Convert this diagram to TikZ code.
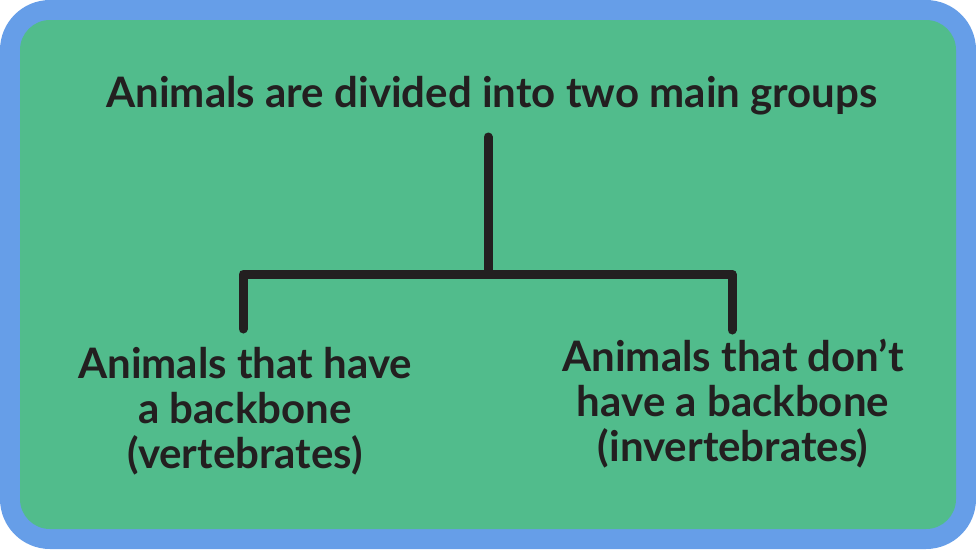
\documentclass[tikz,border=0pt]{standalone}
\usepackage{fontspec}
\setmainfont{Lato}
\usepackage{tikz}
\usetikzlibrary{arrows.meta}
\definecolor{frameblue}{RGB}{102,158,232}
\definecolor{boardgreen}{RGB}{81,188,140}
\definecolor{inkblack}{RGB}{35,31,32}
\tikzset{
	label text/.style={font=\bfseries\fontsize{42}{45}\selectfont, color=inkblack, align=center, inner sep=0pt},
	branch/.style={line width=9pt, color=inkblack, line cap=round, line join=round}
}
\begin{document}
\begin{tikzpicture}[x=1pt, y=-1pt]
				\useasboundingbox (0, 0) rectangle (976, 549);
				\fill[frameblue, rounded corners=50pt] (0, 0) rectangle (976, 549);
				\fill[boardgreen, rounded corners=30pt] (20, 20) rectangle (956, 529);
				\node[label text, anchor=base] (title) at (492, 107) {Animals are divided into two main groups};
				\node[label text, anchor=north] (vert) at (245, 347) {Animals that have\\a backbone\\(vertebrates)};
				\node[label text, anchor=north] (invert) at (733, 339) {Animals that don’t\\have a backbone\\(invertebrates)};
				\coordinate (stem) at (488, 137);
				\coordinate (split) at (488, 274);
				\coordinate (vert top) at (243, 329);
				\coordinate (invert top) at (732, 330);
				\draw[branch] (stem) -- (split);
				\draw[branch] (vert top) |- (split) -| (invert top);
			\end{tikzpicture}
\end{document}
